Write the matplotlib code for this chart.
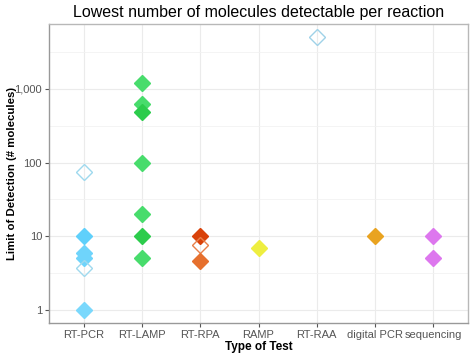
import matplotlib
matplotlib.use("Agg")
import matplotlib.pyplot as plt
from matplotlib.ticker import FixedLocator, FixedFormatter

plt.rcParams["font.family"] = ["Liberation Sans", "DejaVu Sans"]

# categories on the x axis
tests = ["RT-PCR", "RT-LAMP", "RT-RPA", "RAMP", "RT-RAA", "digital PCR", "sequencing"]

# points: (test, limit of detection, colour, filled)
pt_test = ["RT-PCR", "RT-PCR", "RT-PCR", "RT-PCR", "RT-PCR", "RT-PCR",
           "RT-LAMP", "RT-LAMP", "RT-LAMP", "RT-LAMP", "RT-LAMP", "RT-LAMP", "RT-LAMP",
           "RT-RPA", "RT-RPA", "RT-RPA",
           "RAMP", "RT-RAA", "digital PCR", "sequencing", "sequencing"]
pt_value = [75, 10, 6, 5, 3.7, 1,
            1200, 620, 480, 100, 20, 10, 5,
            10, 7.5, 4.6,
            7, 5000, 10, 10, 5]
pt_color = ["#9fd9ee", "#5fd0fb", "#6fd4fb", "#6fd4fb", "#9fd9ee", "#7ad8fc",
            "#48dc6c", "#48dc6c", "#2ccc4c", "#48dc6c", "#48dc6c", "#2ccc4c", "#48dc6c",
            "#d9420a", "#e8804a", "#e6702e",
            "#eeee40", "#9fd2e8", "#e9a320", "#dd77ee", "#dd77ee"]
pt_filled = [False, True, True, True, False, True,
             True, True, True, True, True, True, True,
             True, False, True,
             True, False, True, True, True]

fig = plt.figure(figsize=(4.74, 3.55), dpi=100)
ax = fig.add_axes([49 / 474, 32 / 355, 419 / 474, 299 / 355])

for t, v, c, f in zip(pt_test, pt_value, pt_color, pt_filled):
    x = tests.index(t)
    if f:
        ax.plot(x, v, marker="D", markersize=8, color=c, markeredgecolor=c, linestyle="none", zorder=3)
    else:
        ax.plot(x, v, marker="D", markersize=8, markerfacecolor="none", markeredgecolor=c,
                markeredgewidth=1.0, linestyle="none", zorder=3)

ax.set_yscale("log")
ax.set_ylim(0.665, 7600)
ax.set_xlim(-0.6, len(tests) - 0.4)

ax.yaxis.set_major_locator(FixedLocator([1, 10, 100, 1000]))
ax.yaxis.set_major_formatter(FixedFormatter(["1", "10", "100", "1,000"]))
ax.yaxis.set_minor_locator(FixedLocator([10 ** 0.5, 10 ** 1.5, 10 ** 2.5, 10 ** 3.5]))
ax.yaxis.set_minor_formatter(FixedFormatter([]))
ax.set_xticks(range(len(tests)))
ax.set_xticklabels(tests)

ax.grid(True, which="major", color="#ebebeb", linewidth=0.8)
ax.grid(True, which="minor", axis="y", color="#f2f2f2", linewidth=0.6)
ax.set_axisbelow(True)
ax.tick_params(which="minor", length=0)
ax.tick_params(which="major", length=3, color="#555555", labelsize=8, labelcolor="#555555", pad=2)
for s in ax.spines.values():
    s.set_color("#b8b8b8")
    s.set_linewidth(1.0)
ax.spines["bottom"].set_color("#999999")
ax.spines["left"].set_color("#999999")

ax.set_title("Lowest number of molecules detectable per reaction", fontsize=11.5, pad=5)
ax.set_xlabel("Type of Test", fontsize=8.5, fontweight="bold", labelpad=1)
ax.set_ylabel("Limit of Detection (# molecules)", fontsize=8.2, fontweight="bold")
ax.yaxis.set_label_coords(-0.077, 0.5)

fig.savefig("out.png", dpi=100)
